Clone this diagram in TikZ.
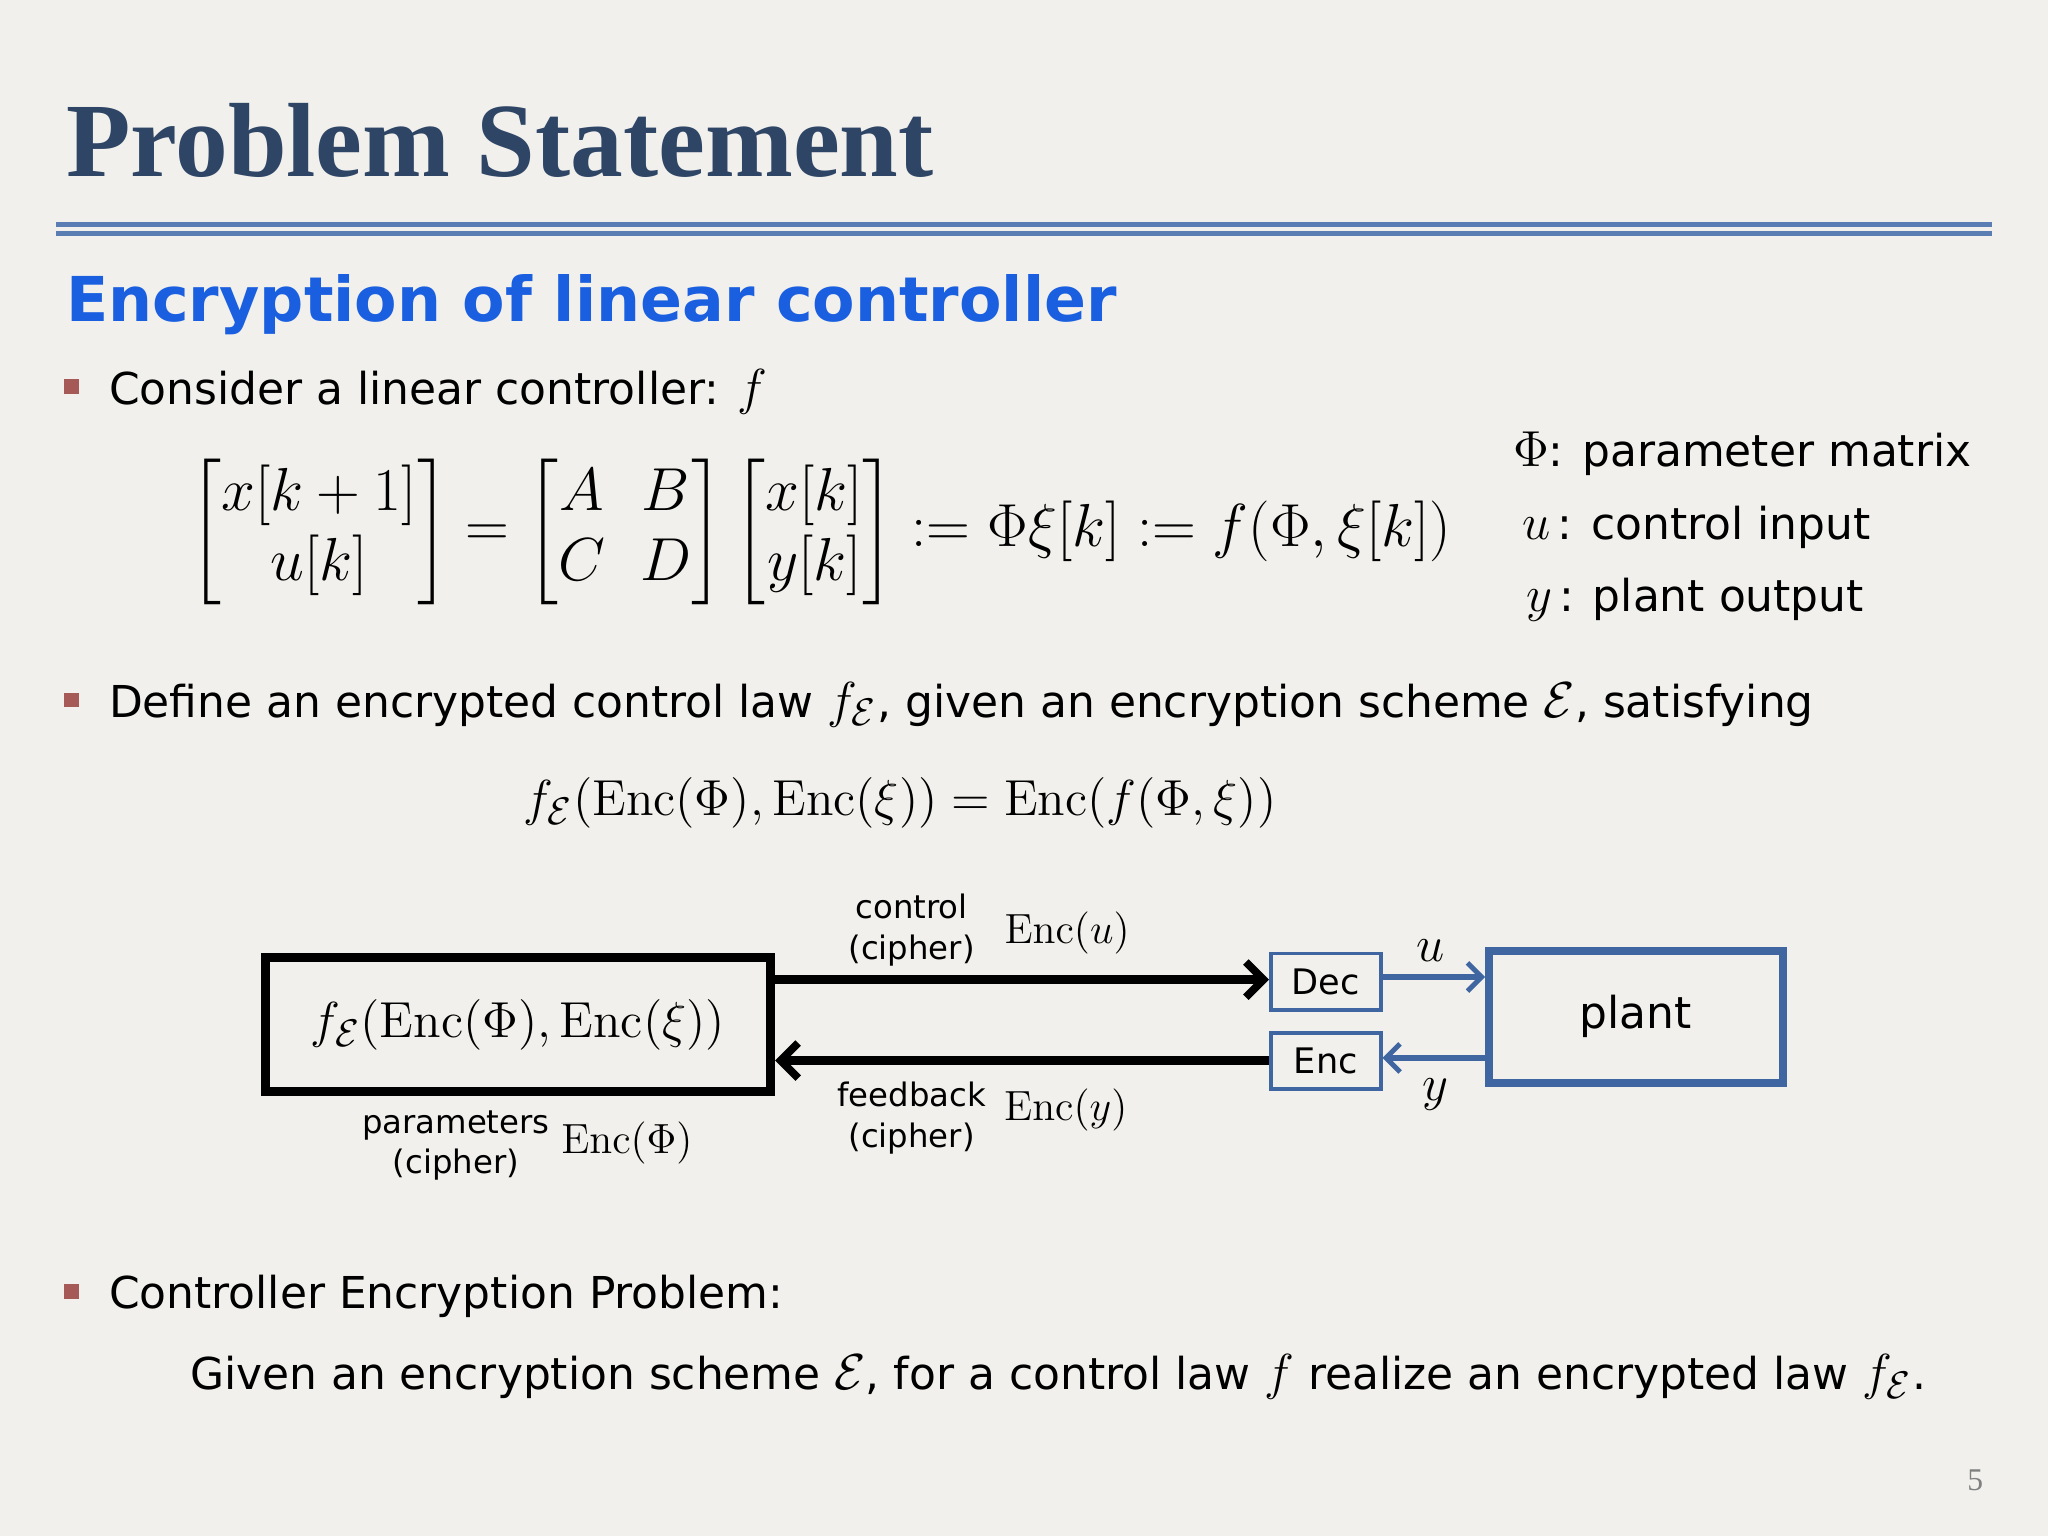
\documentclass[tikz,border=0pt]{standalone}
\usepackage{amsmath}
\usepackage[no-math]{fontspec}
\setmainfont{DejaVu Sans}
\newfontfamily\titlefont{Liberation Serif}
\usetikzlibrary{arrows.meta}
\definecolor{bgc}{HTML}{F1F0EC}
\definecolor{titc}{HTML}{2E4566}
\definecolor{rulec}{HTML}{5A7DB3}
\definecolor{subc}{HTML}{1A5FE0}
\definecolor{bulc}{HTML}{A65A58}
\definecolor{boxc}{HTML}{3F66A0}
\newcommand{\bm}[1]{{\fontsize{15.5}{15}\selectfont$#1$}}
\tikzset{
 body/.style={anchor=base west,inner sep=0,font=\fontsize{12.5}{15}\selectfont},
 bul/.style={fill=bulc,minimum size=4.2pt,inner sep=0},
 small/.style={align=center,inner sep=0,font=\fontsize{9.2}{11.5}\selectfont},
 smallbox/.style={draw=boxc,line width=1.1pt,inner sep=0,minimum width=1.097cm,minimum height=0.562cm,font=\fontsize{10}{12}\selectfont\rmfamily},
 blk/.style={line width=2.6pt,-{Straight Barb[length=5pt,width=10pt,line width=2.2pt]}},
 blu/.style={draw=boxc,line width=1.6pt,-{Straight Barb[length=4pt,width=8pt,line width=1.4pt]}},
}
\begin{document}
\begin{tikzpicture}[x=0.01306cm,y=-0.01306cm]
\fill[bgc] (0,0) rectangle (1568,1176);
\useasboundingbox (0,0) rectangle (1568,1176);
\node[anchor=base west,inner sep=0,text=titc,font=\titlefont\bfseries\fontsize{30}{34}\selectfont] (title) at (50,135) {Problem Statement};
\draw[rulec,line width=1.4pt] (43,172) -- (1525,172);
\draw[rulec,line width=1.4pt] (43,179) -- (1525,179);
\node[anchor=base west,inner sep=0,text=subc,font=\bfseries\fontsize{17.6}{20}\selectfont] (sub) at (50,246) {Encryption of linear controller};
% bullet 1
\node[bul] (b1) at (55,296) {};
\node[body] (t1) at (83,310) {Consider a linear controller: \bm{f}};
\node[inner sep=0,font=\fontsize{16.8}{20}\selectfont] (eq1) at (628,407) {$\begin{bmatrix} x[k+1]\\ u[k]\end{bmatrix}=\begin{bmatrix}A & B\\ C & D\end{bmatrix}\begin{bmatrix}x[k]\\ y[k]\end{bmatrix}:=\Phi\xi[k]:=f(\Phi,\xi[k])$};
\node[body] (r1) at (1158,357) {\bm{\Phi}: parameter matrix};
\node[body] (r2) at (1165,413) {\bm{u}\,: control input};
\node[body] (r3) at (1168,468) {\bm{y}\,: plant output};
% bullet 2
\node[bul] (b2) at (55,536) {};
\node[body] (t2) at (83,549) {Define an encrypted control law \bm{f_{\mathcal{E}}}, given an encryption scheme \bm{\mathcal{E}}, satisfying};
\node[inner sep=0,font=\fontsize{15}{18}\selectfont] (eq2) at (689,615) {$f_{\mathcal{E}}(\mathrm{Enc}(\Phi),\mathrm{Enc}(\xi))=\mathrm{Enc}(f(\Phi,\xi))$};
% diagram
\node[draw=black,line width=2.6pt,minimum width=5.054cm,minimum height=1.345cm,inner sep=0,font=\fontsize{15}{18}\selectfont] (ctrl) at (396.5,784.5) {$f_{\mathcal{E}}(\mathrm{Enc}(\Phi),\mathrm{Enc}(\xi))$};
\node[smallbox] (dec) at (1015,751.5) {Dec};
\node[smallbox] (enc) at (1015,812.5) {Enc};
\node[draw=boxc,line width=2.2pt,minimum width=2.94cm,minimum height=1.32cm,inner sep=0,font=\fontsize{12.5}{15}\selectfont] (plant) at (1252.5,778.5) {plant};
\draw[blk] (ctrl.east |- 0,750) -- (dec.west |- 0,750);
\draw[blk] (enc.west |- 0,812) -- (ctrl.east |- 0,812);
\draw[blu] (dec.east |- 0,748) -- (plant.west |- 0,748);
\draw[blu] (plant.west |- 0,810) -- (enc.east |- 0,810);
\node[inner sep=0,font=\fontsize{14}{16}\selectfont] (ul) at (1095,728) {$u$};
\node[inner sep=0,font=\fontsize{14}{16}\selectfont] (yl) at (1099,838) {$y$};
\node[small] (l1) at (698,712) {control\\(cipher)};
\node[inner sep=0,font=\fontsize{12}{14}\selectfont] (e1) at (817,714) {$\mathrm{Enc}(u)$};
\node[small] (l2) at (698,856) {feedback\\(cipher)};
\node[inner sep=0,font=\fontsize{12}{14}\selectfont] (e2) at (816,850) {$\mathrm{Enc}(y)$};
\node[small] (l3) at (349,877) {parameters\\(cipher)};
\node[inner sep=0,font=\fontsize{12}{14}\selectfont] (e3) at (480,875) {$\mathrm{Enc}(\Phi)$};
% bullet 3
\node[bul] (b3) at (55,989) {};
\node[body] (t3) at (83,1002) {Controller Encryption Problem:};
\node[body] (t4) at (145,1064) {Given an encryption scheme \bm{\mathcal{E}}, for a control law \bm{f} realize an encrypted law \bm{f_{\mathcal{E}}}.};
\node[anchor=base east,inner sep=0,text=gray,font=\titlefont\fontsize{9}{10}\selectfont] (pg) at (1519,1141) {5};
\end{tikzpicture}
\end{document}
